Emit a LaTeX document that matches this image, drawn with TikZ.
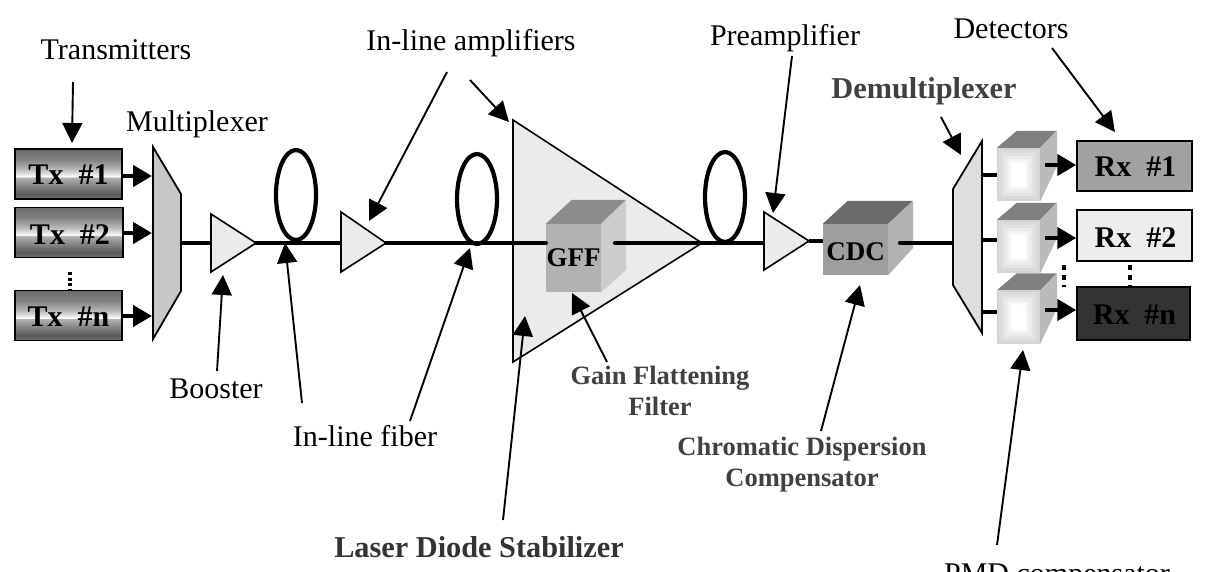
\documentclass[tikz,border=0pt]{standalone}
\usepackage{fontspec}
\setmainfont{Liberation Serif}
\usetikzlibrary{arrows.meta,shapes.geometric}
\pgfdeclareverticalshading{txshade}{100bp}{color(0bp)=(black!55); color(25bp)=(black!55); color(30bp)=(black!65); color(40bp)=(black!45); color(46.5bp)=(black!30); color(47.5bp)=(white); color(48.5bp)=(black!5); color(55bp)=(black!28); color(65bp)=(black!50); color(75bp)=(black!58); color(100bp)=(black!58)}
\newcommand{\lowered}[2]{\raisebox{#1}[0pt][0pt]{#2}}
\tikzset{
  lbl/.style={font=\fontsize{30}{34}\selectfont,inner sep=0pt,align=center},
  blbl/.style={font=\fontsize{26.5}{31}\selectfont\bfseries,text=black!75,inner sep=0pt,align=center},
  bigblbl/.style={blbl,font=\fontsize{30.3}{34}\selectfont\bfseries},
  fibre/.style={line width=4.4pt,line cap=round},
  stub/.style={line width=4.4pt},
  loopf/.style={draw,line width=4.2pt,ellipse,minimum width=40pt,minimum height=90pt,inner sep=0pt},
  pointer/.style={line width=1.9pt,-{Triangle[length=20pt,width=20pt]},shorten >=0pt},
  feed/.style={line width=4.4pt,-{Triangle[length=19pt,width=21pt]}},
  txbox/.style={draw,line width=1.5pt,shading=txshade,minimum width=107pt,minimum height=50pt,inner sep=0pt,font=\fontsize{30}{33}\selectfont\bfseries},
  rxbox/.style={draw,line width=1.5pt,minimum width=115pt,minimum height=50pt,inner sep=0pt,font=\fontsize{30}{33}\selectfont\bfseries},
  amp/.style={draw,line width=1.6pt,fill=black!8,line join=miter},
  muxs/.style={draw,line width=1.8pt,line join=miter},
  dotted link/.style={line width=4.6pt,dash pattern=on 5pt off 5pt},
  cubeface/.style={inner sep=0pt,font=\fontsize{27}{30}\selectfont\bfseries}
}
\begin{document}
\begin{tikzpicture}[x=1pt,y=-1pt]
\useasboundingbox (0,0) rectangle (1217,572);
\clip (0,0) rectangle (1217,572);

% anchors for lines and devices
\coordinate (muxA) at (153,147); \coordinate (muxB) at (181,194);
\coordinate (muxC) at (181,291); \coordinate (muxD) at (153,339);
\coordinate (muxOut) at (181,243);
\coordinate (boostT) at (211,214); \coordinate (boostB) at (211,272); \coordinate (boostO) at (256,243);
\coordinate (boostI) at (211,243);
\coordinate (a1T) at (341,212); \coordinate (a1B) at (341,272); \coordinate (a1O) at (386,243); \coordinate (a1I) at (341,243);
\coordinate (bigT) at (513,120); \coordinate (bigB) at (513,362); \coordinate (bigO) at (702,243);
\coordinate (preT) at (764,212); \coordinate (preB) at (764,270); \coordinate (preO) at (809,241); \coordinate (preI) at (764,243);
\coordinate (dmA) at (982,141); \coordinate (dmB) at (953,189); \coordinate (dmC) at (953,285); \coordinate (dmD) at (982,333);
\coordinate (dmI) at (953,243);

% transmitters
\node[txbox] (tx1) at (68.5,174) {\lowered{-11pt}{Tx\ \ \#1}};
\node[txbox,minimum width=108pt] (tx2) at (69,232.5) {\lowered{-12.5pt}{\hspace{2pt}Tx\ \ \#2}};
\node[txbox] (txn) at (68.5,315.5) {\lowered{-10.5pt}{Tx\ \ \#n}};
\coordinate (txd1) at (70,272); \coordinate (txd2) at (70,290);
\draw[line width=3.6pt,dash pattern=on 3pt off 2.5pt] (txd1) -- (txd2);

% multiplexer
\draw[muxs,fill=black!22] (muxA) -- (muxB) -- (muxC) -- (muxD) -- cycle;
\coordinate (m1) at (152,176); \coordinate (m2) at (152,233); \coordinate (m3) at (152,316);
\draw[feed] (tx1.east |- m1) -- (m1);
\draw[feed] (tx2.east |- m2) -- (m2);
\draw[feed] (txn.east |- m3) -- (m3);

% main line, first spans
\draw[stub] (muxOut) -- (boostI);
\node[loopf] (loop1) at (296,195) {};
\draw[fibre] (boostO) -- (a1I);
\draw[amp] (boostT) -- (boostO) -- (boostB) -- cycle;

% large amplifier
\draw[amp,fill=black!8] (bigT) -- (bigO) -- (bigB) -- cycle;
\node[cubeface,fill=black!30,minimum width=55pt,minimum height=68pt] (gff) at (573.5,258) {\lowered{-8pt}{GFF}};
\fill[black!45] (gff.north west) -- ++(26,-24) -- ++(54,0) -- (gff.north east) -- cycle;
\fill[black!20] (gff.north east) -- ++(25,-24) -- ++(0,70) -- (gff.south east) -- cycle;

\node[loopf] (loop2) at (477,199) {};
\draw[fibre] (a1O) -- (gff.west |- a1O);
\draw[amp] (a1T) -- (a1O) -- (a1B) -- cycle;

\coordinate (gffOut) at (615,243);
\node[loopf] (loop3) at (725,197) {};
\draw[fibre] (gffOut) -- (preI);
\draw[amp] (preT) -- (preO) -- (preB) -- cycle;

% CDC
\node[cubeface,fill=black!38,minimum width=65pt,minimum height=51pt] (cdc) at (855.5,249.5) {\lowered{-10.5pt}{CDC}};
\fill[black!58] (cdc.north west) -- ++(25,-23) -- ++(65,0) -- (cdc.north east) -- cycle;
\fill[black!30] (cdc.north east) -- ++(25,-23) -- ++(0,47) -- (cdc.south east) -- cycle;
\draw[stub] (preO) -- (cdc.west |- preO);
\coordinate (cdcOut) at (900,243);
\draw[fibre] (cdcOut) -- (dmI);

% demultiplexer
\draw[muxs,fill=black!13] (dmA) -- (dmB) -- (dmC) -- (dmD) -- cycle;

% PMD cubes
\foreach \n/\cy in {p1/174.5,p2/246.5,p3/317}{
  \node[inner sep=0pt,fill=black!17,minimum width=43pt,minimum height=53pt] (\n) at (1018.5,\cy) {};
  \fill[black!50] (\n.north west) -- ++(20,-17) -- ++(40,0) -- (\n.north east) -- cycle;
  \fill[black!27] (\n.north east) -- ++(17,-17) -- ++(0,35) -- (\n.south east) -- cycle;
  \foreach \i/\g in {2/14,5/11,8/8,11/5,13/2,15/0}{
    \fill[black!\g] ([shift={(\i,-\i)}]\n.south west) rectangle ([shift={(-\i,\i)}]\n.north east);
  }
}
\coordinate (d1) at (982,175); \coordinate (d2) at (982,240); \coordinate (d3) at (982,312);
\draw[stub] (d1) -- (p1.west |- d1);
\draw[stub] (d2) -- (p2.west |- d2);
\draw[stub] (d3) -- (p3.west |- d3);

% receivers
\node[rxbox,fill=black!37] (rx1) at (1134.5,166) {\lowered{-11pt}{\hspace{2pt}Rx\ \ \#1}};
\node[rxbox,fill=black!7,minimum height=51pt] (rx2) at (1134.5,235.5) {\lowered{-11.5pt}{\hspace{2pt}Rx\ \ \#2}};
\node[rxbox,fill=black!80,minimum width=113pt,minimum height=53pt] (rxn) at (1133.5,313.5) {\lowered{-10.5pt}{\hspace{2pt}Rx\ \ \#n}};
\coordinate (o1) at (1045,165); \coordinate (o2) at (1045,238); \coordinate (o3) at (1045,310);
\draw[feed] (o1) -- (rx1.west |- o1);
\draw[feed] (o2) -- (rx2.west |- o2);
\draw[feed] (o3) -- (rxn.west |- o3);
\coordinate (rd1) at (1064,265); \coordinate (rd2) at (1064,287);
\draw[dotted link] (rd1) -- (rd2);
\coordinate (rd3) at (1130,265); \coordinate (rd4) at (1130,287);
\draw[dotted link] (rd3) -- (rd4);

% labels
\node[lbl] (tTrans) at (116,50) {Transmitters};
\node[lbl] (tMux) at (197,124) {Multiplexer};
\node[lbl] (tBoost) at (216,388.5) {Booster};
\node[lbl] (tFiber) at (365,436.5) {In-line fiber};
\node[lbl] (tAmps) at (471,43) {In-line amplifiers};
\node[lbl] (tPre) at (785,38) {Preamplifier};
\node[lbl] (tDet) at (1011,28.5) {Detectors};
\node[bigblbl] (tDemux) at (924,91) {Demultiplexer};
\node[blbl] (tGain) at (660,391) {Gain Flattening\\Filter};
\node[blbl] (tCdc) at (802,465) {Chromatic Dispersion\\Compensator};
\node[bigblbl,text=black!80] (tLaser) at (479,547) {Laser Diode Stabilizer};
\node[lbl] (tPmd) at (1057,577) {PMD compensator};

% pointers
\coordinate (q1) at (73,82); \coordinate (q1t) at (72,143);
\draw[pointer] (q1) -- (q1t);
\coordinate (q2) at (217,371); \coordinate (q2t) at (223,275);
\draw[pointer] (q2) -- (q2t);
\coordinate (q3) at (302,403); \coordinate (q3t) at (285,243);
\draw[pointer] (q3) -- (q3t);
\coordinate (q4) at (410,421); \coordinate (q4t) at (470,248);
\draw[pointer] (q4) -- (q4t);
\coordinate (q5) at (447,72); \coordinate (q5t) at (369,221);
\draw[pointer] (q5) -- (q5t);
\coordinate (q6) at (470,80); \coordinate (q6t) at (509,122);
\draw[pointer] (q6) -- (q6t);
\coordinate (q7) at (792,56); \coordinate (q7t) at (773,213);
\draw[pointer] (q7) -- (q7t);
\coordinate (q8) at (1052,48); \coordinate (q8t) at (1115,132);
\draw[pointer] (q8) -- (q8t);
\coordinate (q9) at (941,117); \coordinate (q9t) at (961,155);
\draw[pointer] (q9) -- (q9t);
\coordinate (q10) at (607,362); \coordinate (q10t) at (572,293);
\draw[pointer] (q10) -- (q10t);
\coordinate (q11) at (503,520); \coordinate (q11t) at (525,316);
\draw[pointer] (q11) -- (q11t);
\coordinate (q12) at (821,431); \coordinate (q12t) at (860,285);
\draw[pointer] (q12) -- (q12t);
\coordinate (q13) at (997,545); \coordinate (q13t) at (1023,350);
\draw[pointer] (q13) -- (q13t);
\end{tikzpicture}
\end{document}
